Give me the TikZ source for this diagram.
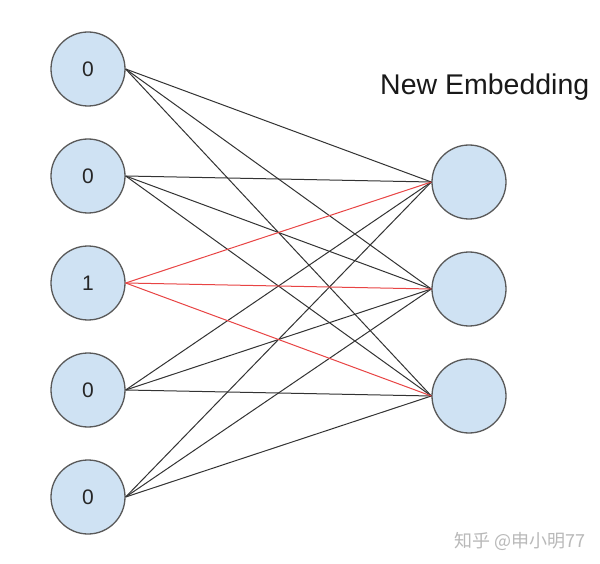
\documentclass[tikz,border=0pt]{standalone}
\usepackage{fontspec}
\setmainfont{Liberation Sans}
\newfontfamily\cjk{Noto Sans CJK SC}
\definecolor{nodefill}{HTML}{CFE2F3}
\definecolor{nodeedge}{HTML}{595959}
\definecolor{edgeblack}{HTML}{333333}
\definecolor{edgered}{HTML}{E84444}
\begin{document}
\begin{tikzpicture}[x=1pt,y=-1pt,
  neuron/.style={circle,draw=nodeedge,fill=nodefill,line width=1.3pt,minimum size=74pt,inner sep=0pt,font=\fontsize{21}{25}\selectfont,text=black!85},
  conn/.style={draw=edgeblack,line width=1pt},
  hot/.style={draw=edgered,line width=1pt}]
\useasboundingbox (0,0) rectangle (600,564);
\fill[white] (0,0) rectangle (600,564);
% input nodes
\node[neuron] (i1) at (88,69) {0};
\node[neuron] (i2) at (88,176) {0};
\node[neuron] (i3) at (88,283) {1};
\node[neuron] (i4) at (88,390) {0};
\node[neuron] (i5) at (88,497) {0};
% output nodes
\node[neuron] (o1) at (469,182) {};
\node[neuron] (o2) at (469,289) {};
\node[neuron] (o3) at (469,396) {};
% connectors
\foreach \i in {1,2,4,5}{
  \foreach \o in {1,2,3}{
    \draw[conn] (i\i.east) -- (o\o.west);
  }
}
\foreach \o in {1,2,3}{
  \draw[hot] (i3.east) -- (o\o.west);
}
% label
\node[anchor=base west,inner sep=0pt,font=\fontsize{28.5}{32}\selectfont,text=black!90] (title) at (380,95) {New Embedding};
% watermark
\node[anchor=center,inner sep=0pt,font=\cjk\fontsize{18}{21}\selectfont,text=gray!55] (wm) at (520,541) {知乎 @申小明77};
\end{tikzpicture}
\end{document}
